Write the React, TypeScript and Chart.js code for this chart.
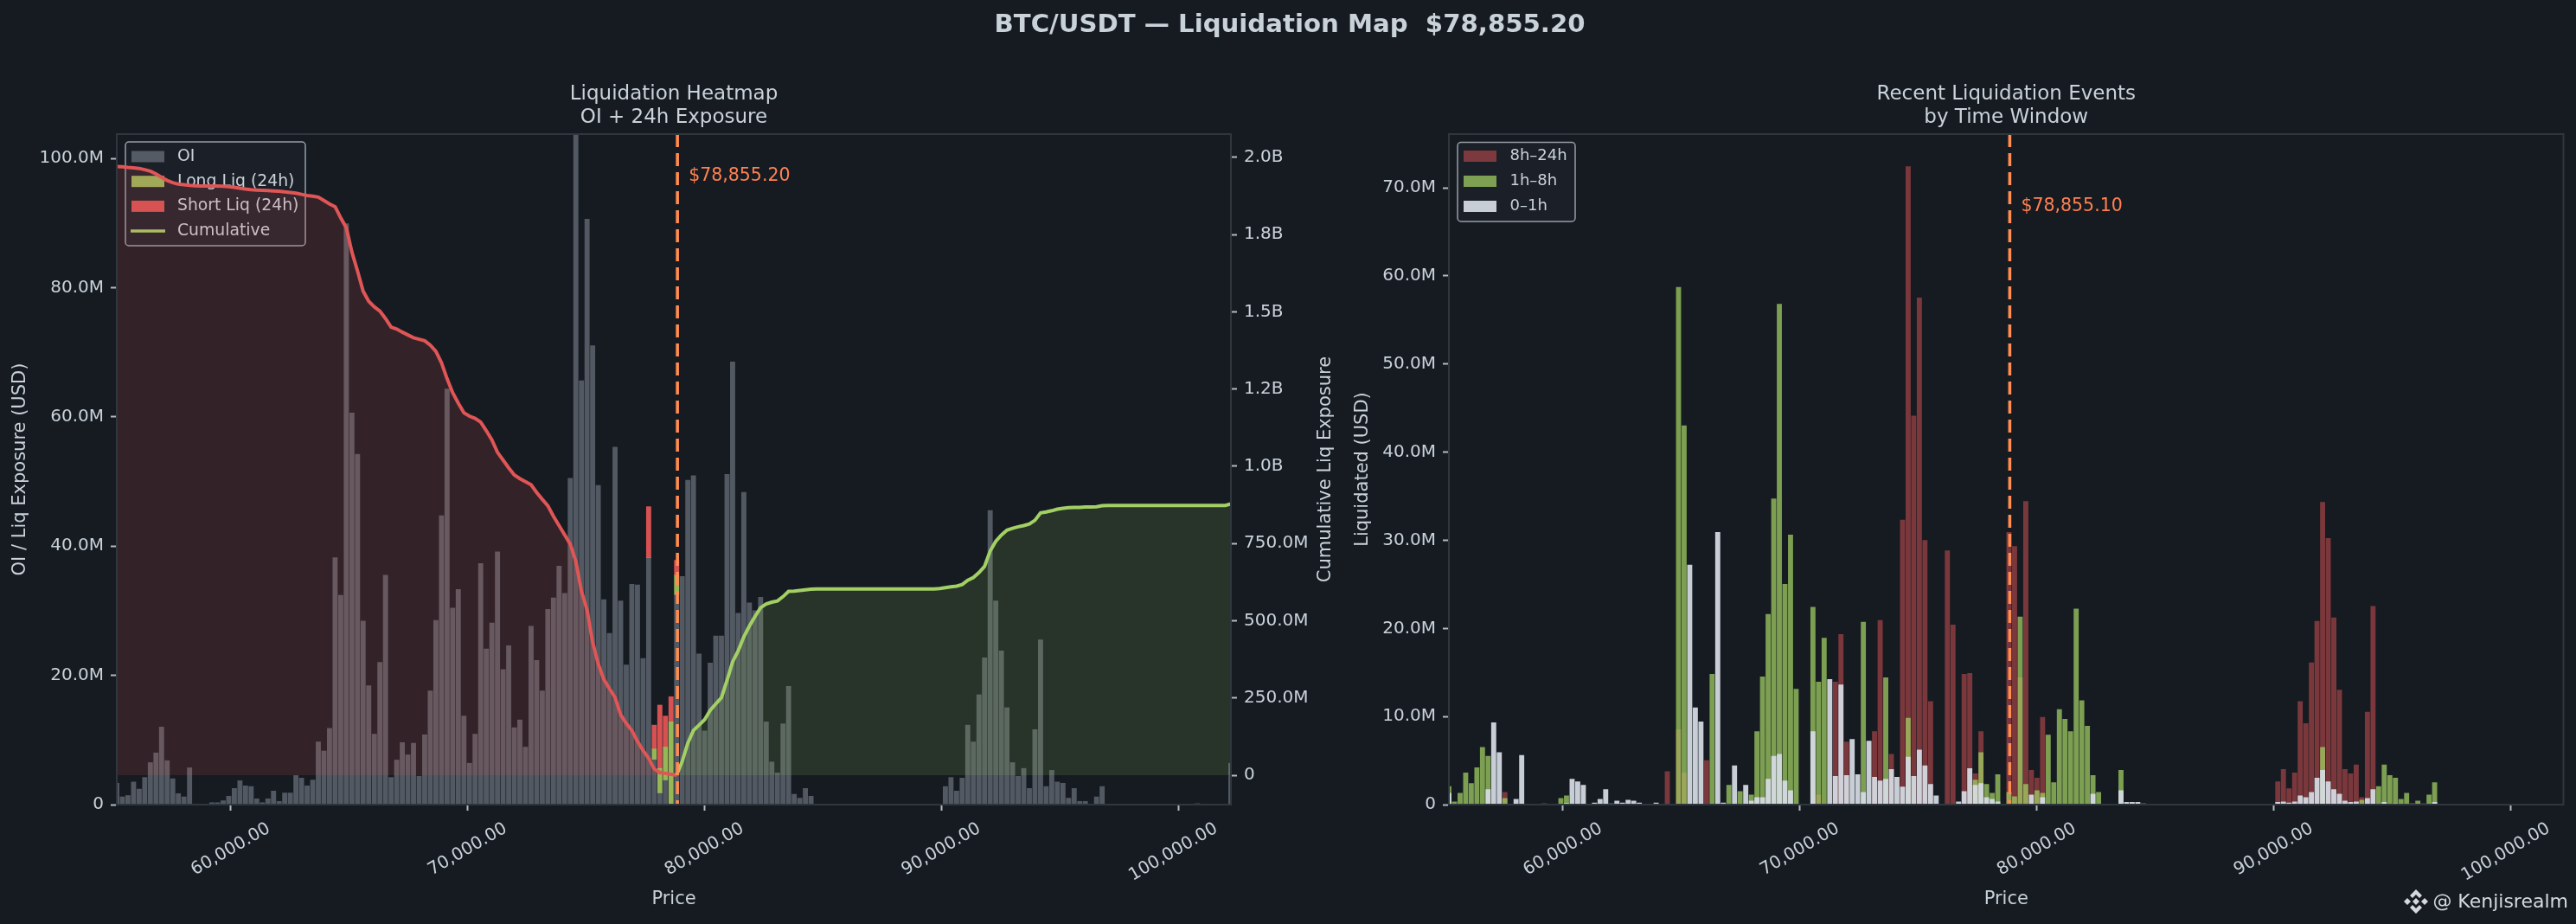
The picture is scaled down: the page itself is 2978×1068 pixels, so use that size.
import React, { useEffect, useRef } from "react";
import { Chart, registerables } from "chart.js";

Chart.register(...registerables);

const FONT = '"DejaVu Sans"';
const BG = "#161b22";
const TEXT = "#c9d1d9";
const SPINE = "#30363d";

const suptitle = "BTC/USDT — Liquidation Map  $78,855.20";
const watermark = "@ Kenjisrealm";

// price bins of the histogram (both panels share them)
const priceMin = 55182;
const priceMax = 102226;
const binCount = 200;
const priceStep = (priceMax - priceMin) / (binCount - 1);
const binPrice = (i: number) => priceMin + i * priceStep;

const xTickValues = [60000, 70000, 80000, 90000, 100000];
const xTickLabels = ["60,000.00", "70,000.00", "80,000.00", "90,000.00", "100,000.00"];

const leftTickValues = [0, 20, 40, 60, 80, 100];
const leftTickLabels = ["0", "20.0M", "40.0M", "60.0M", "80.0M", "100.0M"];
const cumTickValues = [0, 250, 500, 750, 1000, 1250, 1500, 1750, 2000];
const cumTickLabels = ["0", "250.0M", "500.0M", "750.0M", "1.0B", "1.2B", "1.5B", "1.8B", "2.0B"];
const rightTickValues = [0, 10, 20, 30, 40, 50, 60, 70];
const rightTickLabels = ["0", "10.0M", "20.0M", "30.0M", "40.0M", "50.0M", "60.0M", "70.0M"];

// Open interest per bin, millions USD
const oiValues = [
  3.3, 1.2, 1.4, 3.5, 2.4, 4.2, 6.5, 8.0, 12.0, 6.8,
  4.0, 1.7, 1.2, 5.7, 0.1, 0.05, 0.05, 0.3, 0.3, 0.6,
  1.3, 2.5, 3.7, 2.9, 2.8, 0.9, 0.3, 0.9, 2.1, 0.5,
  1.8, 1.8, 4.5, 4.1, 2.9, 3.8, 9.7, 8.3, 11.8, 38.2,
  32.4, 89.9, 60.6, 54.2, 28.4, 18.4, 10.9, 22.0, 35.5, 4.2,
  6.9, 9.6, 7.7, 9.5, 4.4, 10.8, 17.6, 28.5, 44.7, 64.3,
  30.4, 33.3, 13.7, 6.4, 10.9, 37.3, 24.1, 28.1, 39.1, 20.9,
  24.6, 11.9, 13.1, 8.9, 27.6, 22.3, 17.6, 30.2, 32.0, 36.9,
  32.7, 50.5, 105, 65.6, 90.6, 71, 49.4, 31.7, 26.5, 55.3,
  31.5, 21.6, 34.1, 34, 22.6, 38.2, 7, 1.8, 3.8, 0,
  32.5, 35.3, 50.2, 50.9, 23.3, 11.4, 21.9, 26.1, 26.1, 51.1,
  68.5, 29.6, 48.3, 31.2, 30, 32.1, 12.8, 6.6, 4.9, 12.5,
  18.3, 1.6, 1, 2.5, 1.3, 0, 0, 0, 0, 0,
  0, 0, 0, 0, 0, 0, 0, 0, 0, 0,
  0, 0, 0, 0, 0, 0, 0, 0, 2.8, 4.2,
  2.1, 4.1, 12.3, 9.7, 17, 22.7, 45.5, 31.5, 23.8, 15,
  6.5, 4.4, 5.6, 2.5, 11.6, 25.5, 2.8, 5.3, 3.5, 3.3,
  1, 2.5, 0.5, 0.5, 0, 1.2, 2.8, 0, 0, 0,
  0, 0, 0, 0, 0, 0, 0, 0, 0, 0,
  0, 0, 0, 0.15, 0, 0, 0, 0, 0, 6.4,
];

// [bin index, millions USD]
const longLiq24h = [[96, 1.6], [97, 3.8], [98, 5.1], [99, 12.8], [100, 3]];
const shortLiq24h = [[95, 7.9], [96, 3.7], [97, 9.8], [98, 4.8], [99, 3.9], [100, 2.3]];

// cumulative exposure, millions USD: bins 0..100 below the price, bins 100..199 above it
const cumBelow = [
  1970, 1969, 1967, 1966, 1964, 1960, 1955, 1946, 1935, 1925,
  1918, 1913, 1911, 1909, 1908, 1907, 1907, 1907, 1907, 1906,
  1905, 1903, 1900, 1897, 1895, 1894, 1893, 1892, 1891, 1890,
  1888, 1886, 1884, 1880, 1876, 1874, 1871, 1860, 1849, 1840,
  1804, 1772, 1693, 1632, 1567, 1534, 1516, 1502, 1478, 1450,
  1444, 1434, 1425, 1416, 1411, 1406, 1392, 1372, 1335, 1283,
  1238, 1204, 1173, 1162, 1155, 1143, 1115, 1085, 1045, 1020,
  995, 972, 960, 950, 940, 915, 893, 872, 838, 808,
  778, 748, 692, 595, 535, 430, 360, 310, 280, 252,
  196, 168, 145, 110, 80, 55, 20, 9, 6, 3, 0,
];
const cumAbove = [
  1, 45, 104, 145, 162, 180, 210, 231, 251, 307,
  367, 403, 448, 483, 514, 542, 554, 560, 564, 578,
  595, 596, 598, 600, 602, 603, 603, 603, 603, 603,
  603, 603, 603, 603, 603, 603, 603, 603, 603, 603,
  603, 603, 603, 603, 603, 603, 603, 604, 607, 610,
  612, 617, 631, 640, 656, 676, 726, 757, 777, 793,
  799, 804, 808, 813, 825, 849, 852, 856, 861, 864,
  866, 867, 867, 868, 868, 869, 872, 873, 873, 873,
  873, 873, 873, 873, 873, 873, 873, 873, 873, 873,
  873, 873, 873, 873, 873, 873, 873, 873, 873, 878,
];

// Recent liquidations: [bin index, millions USD]
const recent8to24h = [
  [10, 1.4], [39, 3.75], [41, 8.5], [42, 3.6], [46, 5], [66, 1.1], [69, 13.9], [70, 19.3], [71, 7.1],
  [76, 8.3], [77, 20.9], [79, 5.7], [81, 32.3], [82, 72.4], [83, 44.1], [84, 57.5], [85, 30], [86, 11.7],
  [89, 28.8], [90, 20.4], [92, 14.8], [93, 14.9], [94, 3.5], [95, 8.3], [100, 30.9], [101, 29.3], [102, 14.4],
  [103, 34.4], [104, 3.9], [105, 3], [106, 9.9], [148, 2.6], [149, 4], [150, 1.8], [151, 3.6], [152, 11.7],
  [153, 9.2], [154, 16.1], [155, 20.8], [156, 34.3], [157, 30.2], [158, 21.2], [159, 13], [160, 4], [161, 3.5],
  [162, 4.5], [163, 0.8], [164, 10.5], [165, 22.5],
];
const recent1to8h = [
  [0, 2.05], [1, 0.3], [2, 1.3], [3, 3.6], [4, 2.4], [5, 4.2], [6, 6.5], [7, 5.5], [10, 0.7], [17, 0.1], [20, 0.7],
  [21, 1], [41, 58.7], [42, 43], [47, 14.8], [50, 2.2], [52, 1.5], [54, 1.1], [55, 8.3], [56, 14.5], [57, 21.6],
  [58, 34.7], [59, 56.8], [60, 25], [61, 30.6], [62, 13.1], [65, 22.4], [66, 13.9], [67, 18.9], [74, 20.7],
  [78, 14.4], [82, 9.8], [94, 2.8], [95, 5.9], [96, 2.3], [97, 1.3], [98, 3.4], [100, 1.4], [101, 0.9], [102, 21.3],
  [103, 2.3], [105, 1.6], [106, 1.3], [107, 7.9], [108, 2.5], [109, 10.8], [110, 9.7], [111, 8.3], [112, 22.2],
  [113, 11.8], [114, 8.9], [115, 3.3], [116, 1.4], [120, 3.9], [156, 6.5], [163, 0.5], [166, 2.05], [167, 4.5],
  [168, 3.3], [169, 3], [170, 0.6], [171, 1.3], [173, 0.4], [174, 0.1], [175, 1.1], [176, 2.5],
];
const recent0to1h = [
  [0, 1.3], [7, 1.7], [8, 9.3], [9, 5.9], [12, 0.6], [13, 5.6], [21, 0.15], [22, 2.9], [23, 2.6], [24, 2.2], [26, 0.2],
  [27, 0.6], [28, 1.7], [29, 0.1], [30, 0.4], [31, 0.2], [32, 0.5], [33, 0.4], [34, 0.2], [37, 0.2], [43, 27.2],
  [44, 11], [45, 9.4], [48, 30.9], [49, 0.2], [51, 4.4], [53, 2.2], [54, 0.4], [55, 0.8], [56, 0.8], [57, 2.9],
  [58, 5.5], [59, 5.7], [60, 2.7], [61, 1.6], [65, 8.3], [68, 14.2], [69, 3.2], [70, 13.6], [71, 3.3], [72, 7.4],
  [73, 3.4], [74, 1.4], [75, 7.2], [76, 3.1], [77, 2.7], [78, 2.9], [79, 4], [80, 3.1], [81, 2], [82, 5.4], [83, 3.2],
  [84, 6.2], [85, 4.4], [86, 2.3], [87, 1], [91, 0.3], [92, 1.5], [93, 4.1], [94, 2.2], [95, 2.4], [96, 0.8], [97, 0.6],
  [98, 0.3], [104, 1.1], [106, 0.8], [115, 1.2], [120, 1.6], [121, 0.25], [122, 0.25], [123, 0.25], [124, 0.1],
  [126, 0.05], [127, 0.05], [130, 0.05], [146, 0.05], [148, 0.25], [149, 0.3], [150, 0.2], [151, 0.3], [152, 1],
  [153, 0.8], [154, 1.4], [155, 3], [156, 3.9], [157, 2.6], [158, 1.7], [159, 1.2], [160, 0.4], [161, 0.25], [162, 0.3],
  [164, 0.7], [165, 1.7], [167, 0.25], [169, 0.1], [172, 0.1], [176, 0.25],
];

const leftPrice = 78855.2;
const leftPriceLabel = "$78,855.20";
const rightPrice = 78855.1;
const rightPriceLabel = "$78,855.10";

const C_OI = "rgba(139,148,158,0.52)";
const C_LONG = "rgba(163,196,92,0.92)";
const C_SHORT = "rgba(224,85,85,0.95)";
const C_GREENLINE = "#a3d065";
const C_REDLINE = "#e05555";
const C_ORANGE = "#ff8c50";
const C_PRICETEXT = "#ff8050";
const C_8H = "rgba(224,85,85,0.5)";
const C_1H = "rgba(163,210,100,0.72)";
const C_0H = "rgba(214,220,228,0.93)";

const toPoints = (pairs: number[][]) => pairs.map(([i, v]) => ({ x: binPrice(i), y: v }));

const decorPlugin = {
  id: "decor",
  afterDatasetDraw(chart: any, args: any, opts: any) {
    if (args.index !== opts.legendAfterIndex) return;
    const { ctx } = chart;
    const L = opts.legend;
    ctx.save();
    ctx.beginPath();
    ctx.roundRect(L.x, L.y, L.w, L.h, 4);
    ctx.fillStyle = "rgba(28,33,40,0.82)";
    ctx.fill();
    ctx.lineWidth = 1.5;
    ctx.strokeStyle = "rgba(201,209,217,0.72)";
    ctx.stroke();
    ctx.font = `${L.fontSize}px ${FONT}`;
    ctx.textBaseline = "middle";
    L.items.forEach((it: any, i: number) => {
      const cy = L.firstRow + i * L.rowGap;
      if (it.line) {
        ctx.strokeStyle = it.color;
        ctx.lineWidth = 3.5;
        ctx.beginPath();
        ctx.moveTo(L.swatchX - 1, cy);
        ctx.lineTo(L.swatchX + L.swatchW + 1, cy);
        ctx.stroke();
      } else {
        ctx.fillStyle = it.color;
        ctx.fillRect(L.swatchX, cy - 6.5, L.swatchW, 13);
      }
      ctx.fillStyle = TEXT;
      ctx.textAlign = "left";
      ctx.fillText(it.label, L.textX, cy);
    });
    ctx.restore();
  },
  afterDatasetsDraw(chart: any, _args: any, opts: any) {
    const { ctx, chartArea: a, scales } = chart;
    ctx.save();
    const px = scales.x.getPixelForValue(opts.price);
    ctx.beginPath();
    ctx.rect(a.left, a.top, a.right - a.left, a.bottom - a.top);
    ctx.clip();
    ctx.strokeStyle = C_ORANGE;
    ctx.lineWidth = 3.6;
    ctx.setLineDash([15, 7]);
    ctx.beginPath();
    ctx.moveTo(px, a.top);
    ctx.lineTo(px, a.bottom);
    ctx.stroke();
    ctx.restore();

    ctx.save();
    ctx.strokeStyle = SPINE;
    ctx.lineWidth = 2;
    ctx.strokeRect(a.left, a.top, a.right - a.left, a.bottom - a.top);
    ctx.fillStyle = C_PRICETEXT;
    ctx.font = `20.5px ${FONT}`;
    ctx.textAlign = "left";
    ctx.textBaseline = "middle";
    ctx.fillText(opts.priceLabel, px + 13, opts.priceLabelY);

    ctx.fillStyle = TEXT;
    ctx.font = `23px ${FONT}`;
    ctx.textAlign = "center";
    const cx = (a.left + a.right) / 2;
    ctx.fillText(opts.title[0], cx, 109);
    ctx.fillText(opts.title[1], cx, 136);

    if (opts.rightTitle) {
      ctx.font = `21px ${FONT}`;
      ctx.translate(opts.rightTitleX, (a.top + a.bottom) / 2);
      ctx.rotate(-Math.PI / 2);
      ctx.fillText(opts.rightTitle, 0, 0);
    }
    ctx.restore();
  },
};

const tickFont = { family: FONT, size: 20 };
const axisGrid = { drawOnChartArea: false, drawTicks: true, tickLength: 7, tickWidth: 2, tickColor: "#b4bac2", offset: false };
const axisBorder = { color: SPINE, width: 2 };

const xScale = {
  type: "linear",
  position: "bottom",
  offset: false,
  min: priceMin,
  max: priceMax,
  grid: axisGrid,
  border: axisBorder,
  afterBuildTicks: (s: any) => { s.ticks = xTickValues.map((value) => ({ value })); },
  afterFit: (s: any) => { s.height = 138; },
  ticks: {
    autoSkip: false,
    color: TEXT,
    font: tickFont,
    minRotation: 30,
    maxRotation: 30,
    labelOffset: 44,
    padding: 9,
    callback: (v: number) => xTickLabels[xTickValues.indexOf(v)],
  },
  title: { display: true, text: "Price", color: TEXT, font: { family: FONT, size: 21 }, padding: { top: 0, bottom: 16 } },
};

const makeYScale = (min: number, max: number, values: number[], labels: string[], width: number, position: string, title?: any, stacked = false) => ({
  type: "linear",
  position,
  min,
  max,
  stacked,
  grid: axisGrid,
  border: axisBorder,
  afterBuildTicks: (s: any) => { s.ticks = values.map((value) => ({ value })); },
  afterFit: (s: any) => { s.width = width; },
  ticks: {
    autoSkip: false,
    color: TEXT,
    font: tickFont,
    padding: 8,
    callback: (v: number) => labels[values.indexOf(v)],
  },
  title,
});

const yTitle = (text: string, top: number) => ({
  display: true,
  text,
  color: TEXT,
  font: { family: FONT, size: 21 },
  padding: { top, bottom: 0 },
});

const BAR = { barThickness: 5.2, borderWidth: 0, grouped: false };

function makeLeft(canvas: HTMLCanvasElement) {
  return new Chart(canvas, {
    type: "bar",
    data: {
      datasets: [
        {
          type: "line", label: "Cumulative", yAxisID: "y1", order: 1,
          data: cumAbove.map((v, i) => ({ x: binPrice(100 + i), y: v })),
          borderColor: C_GREENLINE, borderWidth: 4, pointRadius: 0, tension: 0,
          fill: { value: 0 }, backgroundColor: "rgba(155,200,90,0.14)",
        },
        {
          type: "line", label: "Cumulative below", yAxisID: "y1", order: 2,
          data: cumBelow.map((v, i) => ({ x: binPrice(i), y: v })),
          borderColor: C_REDLINE, borderWidth: 4, pointRadius: 0, tension: 0,
          fill: { value: 0 }, backgroundColor: "rgba(224,85,85,0.15)",
        },
        { label: "OI", stack: "s", order: 3, data: oiValues.map((v, i) => ({ x: binPrice(i), y: v })), backgroundColor: C_OI, ...BAR, grouped: true },
        { label: "Long Liq (24h)", stack: "s", order: 4, data: toPoints(longLiq24h), backgroundColor: C_LONG, ...BAR, grouped: true },
        { label: "Short Liq (24h)", stack: "s", order: 5, data: toPoints(shortLiq24h), backgroundColor: C_SHORT, ...BAR, grouped: true },
      ],
    },
    plugins: [decorPlugin],
    options: {
      animation: false,
      responsive: false,
      devicePixelRatio: 1,
      layout: { padding: { top: 155, left: 0, right: 0, bottom: 0 } },
      scales: {
        x: xScale,
        y: makeYScale(0, 103.75, leftTickValues, leftTickLabels, 135, "left", yTitle("OI / Liq Exposure (USD)", 11), true),
        y1: makeYScale(-95.2, 2075, cumTickValues, cumTickLabels, 137, "right"),
      },
      plugins: {
        legend: { display: false },
        tooltip: { enabled: false },
        decor: {
          legendAfterIndex: 2,
          price: leftPrice,
          priceLabel: leftPriceLabel,
          priceLabelY: 204,
          title: ["Liquidation Heatmap", "OI + 24h Exposure"],
          rightTitle: "Cumulative Liq Exposure",
          rightTitleX: 1533,
          legend: {
            x: 145, y: 164, w: 208, h: 120, firstRow: 181, rowGap: 28.7, swatchX: 152, swatchW: 38, textX: 205, fontSize: 18.8,
            items: [
              { label: "OI", color: C_OI },
              { label: "Long Liq (24h)", color: C_LONG },
              { label: "Short Liq (24h)", color: C_SHORT },
              { label: "Cumulative", color: C_GREENLINE, line: true },
            ],
          },
        },
      },
    } as any,
  } as any);
}

function makeRight(canvas: HTMLCanvasElement) {
  return new Chart(canvas, {
    type: "bar",
    data: {
      datasets: [
        { label: "0–1h", order: 1, data: toPoints(recent0to1h), backgroundColor: C_0H, ...BAR },
        { label: "1h–8h", order: 2, data: toPoints(recent1to8h), backgroundColor: C_1H, ...BAR },
        { label: "8h–24h", order: 3, data: toPoints(recent8to24h), backgroundColor: C_8H, ...BAR },
      ],
    },
    plugins: [decorPlugin],
    options: {
      animation: false,
      responsive: false,
      devicePixelRatio: 1,
      layout: { padding: { top: 155, left: 0, right: 14.5, bottom: 0 } },
      scales: {
        x: xScale,
        y: makeYScale(0, 76.1, rightTickValues, rightTickLabels, 115, "left", yTitle("Liquidated (USD)", 3)),
      },
      plugins: {
        legend: { display: false },
        tooltip: { enabled: false },
        decor: {
          legendAfterIndex: 0,
          price: rightPrice,
          priceLabel: rightPriceLabel,
          priceLabelY: 239,
          title: ["Recent Liquidation Events", "by Time Window"],
          legend: {
            x: 125, y: 164.5, w: 136, h: 91.5, firstRow: 180.5, rowGap: 29, swatchX: 132, swatchW: 38, textX: 185.5, fontSize: 18,
            items: [
              { label: "8h–24h", color: C_8H },
              { label: "1h–8h", color: C_1H },
              { label: "0–1h", color: C_0H },
            ],
          },
        },
      },
    } as any,
  } as any);
}

export default function App() {
  const leftRef = useRef<HTMLCanvasElement>(null);
  const rightRef = useRef<HTMLCanvasElement>(null);

  useEffect(() => {
    document.body.style.margin = "0";
    document.body.style.background = BG;
    const a = makeLeft(leftRef.current!);
    const b = makeRight(rightRef.current!);
    return () => {
      a.destroy();
      b.destroy();
    };
  }, []);

  return (
    <div style={{ position: "absolute", left: 0, top: 0, width: 2978, height: 1068, background: BG, overflow: "hidden", fontFamily: FONT }}>
      <canvas ref={leftRef} width={1560} height={1068} style={{ position: "absolute", left: 0, top: 0, width: 1560, height: 1068 }} />
      <canvas ref={rightRef} width={1418} height={1068} style={{ position: "absolute", left: 1560, top: 0, width: 1418, height: 1068 }} />
      <div style={{ position: "absolute", left: 2, width: 2978, top: 8, textAlign: "center", color: TEXT, fontWeight: 700, fontSize: 29.2, lineHeight: "38px", whiteSpace: "pre" }}>
        {suptitle}
      </div>
      <svg width={30} height={30} viewBox="0 0 30 30" style={{ position: "absolute", left: 2778, top: 1027 }}>
        <g fill="#d5d9de">
          <path d="M15 1 L22 8 L19 11 L15 7 L11 11 L8 8 Z" />
          <path d="M15 29 L8 22 L11 19 L15 23 L19 19 L22 22 Z" />
          <path d="M5 11 L9 15 L5 19 L1 15 Z" />
          <path d="M25 11 L29 15 L25 19 L21 15 Z" />
          <path d="M15 11 L19 15 L15 19 L11 15 Z" />
        </g>
      </svg>
      <div style={{ position: "absolute", right: 9, top: 1026, color: "#d5d9de", fontSize: 22, lineHeight: "32px", whiteSpace: "pre" }}>
        {watermark}
      </div>
    </div>
  );
}
